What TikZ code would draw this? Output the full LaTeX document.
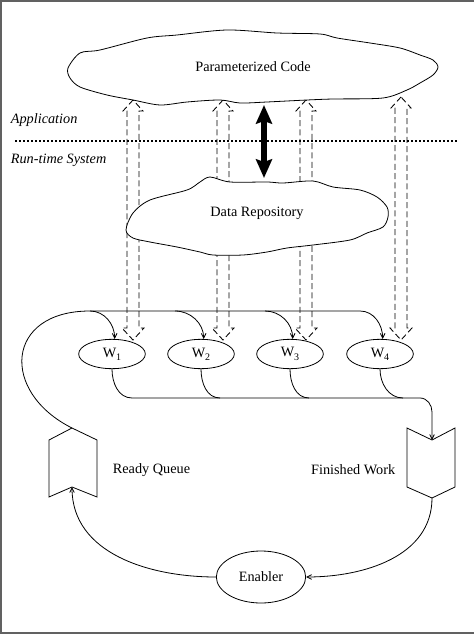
\documentclass[tikz,border=0pt]{standalone}
\usepackage{fontspec}
\setmainfont{Liberation Serif}
\usetikzlibrary{shapes.geometric, arrows.meta}

\begin{document}
\begin{tikzpicture}[x = 0.75pt, y = -0.75pt, line width = 0.6pt,
    font = \fontsize{10.7}{12}\selectfont,
    worker/.style = {ellipse, draw, fill = white, minimum width = 50pt, minimum height = 22pt, inner sep = 0pt},
    hollow/.style = {dash pattern = on 4.5pt off 2.5pt, line width = 0.65pt},
    flow/.style = {-{Straight Barb[length = 3.5pt, width = 3.5pt]}}]
    \useasboundingbox (0, 0) rectangle (474, 634);
    \draw[black!62, line width = 1.6pt] (474, 1) -- (1, 1) -- (1, 633) -- (474, 633);

    % hollow dashed arrows between code and workers
    \foreach \c/\t in {133/100, 223/100, 306/100, 401/97}
        \draw[hollow] (\c, \t) -- (\c-10, \t+11) -- (\c-6, \t+11) -- (\c-6, 328) -- (\c-11, 328) -- (\c, 340)
            -- (\c+11, 328) -- (\c+6, 328) -- (\c+6, \t+11) -- (\c+10, \t+11) -- cycle;

    \draw[fill = white] plot[smooth cycle] coordinates {(68, 68) (80, 53) (100, 50) (147, 38) (177, 35) (227, 30)
        (277, 33) (320, 34) (337, 38) (370, 43) (400, 48) (420, 55) (433, 60) (438, 67) (433, 75) (420, 83) (407, 90)
        (383, 98) (333, 99) (307, 100) (267, 102) (240, 103) (220, 100) (187, 102) (160, 105) (133, 100) (107, 95)
        (80, 87) (70, 78)};
    \draw[fill = white] plot[smooth cycle] coordinates {(126, 230) (133, 213) (150, 200) (187, 190) (200, 182)
        (210, 177) (230, 182) (267, 182) (283, 183) (313, 181) (333, 187) (360, 190) (377, 197) (387, 207) (388, 217)
        (383, 227) (367, 233) (350, 240) (313, 245) (287, 248) (267, 252) (243, 255) (213, 255) (200, 252) (177, 247)
        (150, 242) (133, 238)};
    \node (code) at (253, 67){Parameterized Code};
    \node (repo) at (257, 213){Data Repository};

    \draw[line width = 1.2pt, dash pattern = on 1.2pt off 1.8pt] (15, 141) -- (457, 141);
    \node[anchor = west, font = \fontsize{10.7}{12}\selectfont\itshape] (app) at (6, 120){Application};
    \node[anchor = west, font = \fontsize{10.7}{12}\selectfont\itshape] (rts) at (6, 160){Run-time System};

    \coordinate (codebot) at (264, 105);
    \coordinate (repotop) at (264, 178);
    \draw[line width = 4.2pt, {Stealth[length = 14pt, width = 12pt, inset = 2pt]}-{Stealth[length = 14pt, width = 12pt, inset = 2pt]}] (codebot) -- (repotop);

    % workers
    \foreach \i/\x in {1/112, 2/201, 3/290, 4/380}
        \node[worker] (w\i) at (\x, 354){W\raisebox{-0.5ex}{\fontsize{7.5}{8}\selectfont\i}};
    \node[ellipse, draw, minimum width = 67pt, minimum height = 39pt, inner sep = 0pt] (en) at (261, 577){Enabler};

    % queues
    \draw (49, 440) -- (72, 428) -- (97, 440) -- (97, 497) -- (72, 487) -- (49, 497) -- cycle;
    \draw (407, 428) -- (432, 440) -- (455, 428) -- (455, 487) -- (432, 498) -- (407, 487) -- cycle;
    \coordinate (rqtop) at (72, 428);
    \coordinate (rqbot) at (72, 487);
    \coordinate (fwtop) at (432, 440);
    \coordinate (fwbot) at (432, 498);
    \node[anchor = west] (rq) at (108, 470){Ready Queue};
    \node[anchor = east] (fw) at (400, 470){Finished Work};

    \draw[flow] (rqtop) .. controls (0, 392) and (5, 311) .. (90, 311) -- (360, 311) to[out = 0, in = 90] ([xshift = 2pt]w4.north);
    \foreach \i/\x in {1/90, 2/175, 3/265}
        \draw[flow] (\x, 311) to[out = 0, in = 90] ([xshift = 2pt]w\i.north);
    \draw[flow] (w1.south) to[out = -90, in = 180] (132, 398) -- (420, 398) to[out = 0, in = 90] (432, 412) -- (fwtop);
    \foreach \i/\x in {2/220, 3/309, 4/403}
        \draw (w\i.south) to[out = -90, in = 180] (\x, 398);
    \draw[flow] (fwbot) to[out = -90, in = 0] (en.east);
    \draw[flow] (en.west) to[out = 180, in = -90] (rqbot);
\end{tikzpicture}
\end{document}
